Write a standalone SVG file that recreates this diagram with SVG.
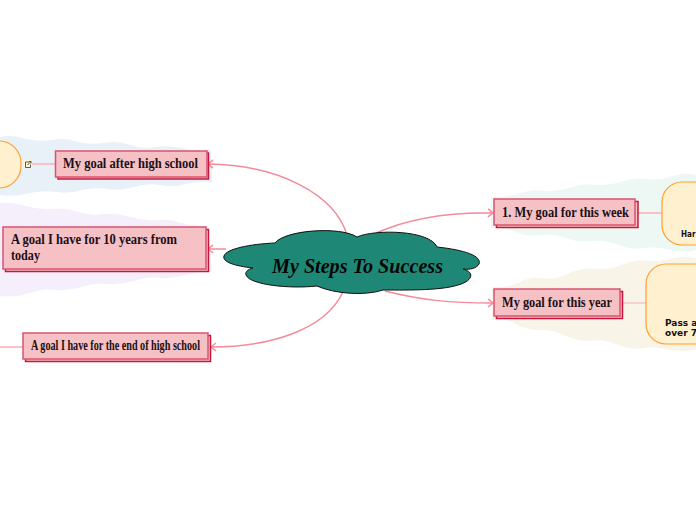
<svg xmlns="http://www.w3.org/2000/svg" width="696" height="520" viewBox="0 0 696 520">
<style>
.box{fill:#f5c1c4;stroke:#d9536f;stroke-width:1.5}
.sh{fill:#f5c1c4;stroke:#c8173c;stroke-width:1.5}
.lb{font-family:"Liberation Serif",serif;font-weight:700;font-size:14px;fill:#1a1015}
.leaf{fill:#fff0cf;stroke:#ff9f2e;stroke-width:1.2}
.lt{font-family:"DejaVu Sans",sans-serif;font-weight:700;font-size:9px;fill:#111}
.c{fill:none;stroke:#f48a9a;stroke-width:1.5}
.s{fill:none;stroke:#f5c2c7;stroke-width:2}
</style>
<defs>
<marker id="a" markerUnits="userSpaceOnUse" markerWidth="10" markerHeight="10" refX="7" refY="5" orient="auto"><path d="M2 1L7 5L2 9" fill="none" stroke="#f48a9a" stroke-width="1.500"/></marker>
</defs>
<g id="blobs">
<path d="M0 137Q13 134 26 139Q39 142 52 140Q65 137 78 142Q91 145 104 143Q117 140 130 145Q143 150 156 147Q169 145 182 148Q195 152 211 150L212 182Q199 181 186 184Q173 188 160 185Q147 183 134 187Q121 191 108 189Q95 187 82 190Q69 194 56 192Q43 190 30 193Q15 197 0 195Z" fill="#e8f1f7"/>
<path d="M0 203Q13 202 26 206Q39 210 52 209Q65 207 78 212Q91 216 104 214Q117 212 130 217Q143 221 156 220Q169 218 182 223Q195 227 208 226L212 272Q199 271 186 275Q173 279 160 278Q147 276 134 281Q121 285 108 284Q95 282 82 287Q69 291 56 290Q43 288 30 293Q15 298 0 296Z" fill="#f5effb"/>
<path d="M491 197Q504 198 517 194Q530 189 543 191Q556 192 569 188Q582 183 595 185Q608 186 621 182Q634 177 647 179Q660 181 673 176Q685 172 696 175V250Q683 253 670 250Q657 246 644 248Q631 250 618 245Q605 240 592 241Q579 243 566 238Q553 233 540 235Q527 237 514 231Q503 226 491 228Z" fill="#edf7f3"/>
<path d="M492 287Q505 288 518 283Q531 276 544 278Q557 280 570 273Q583 267 596 269Q609 270 622 265Q635 259 648 261Q661 262 674 258Q685 255 696 258V350Q683 352 670 350Q657 346 644 348Q631 350 618 345Q605 339 592 341Q579 342 566 336Q553 329 540 330Q527 331 514 323Q503 317 492 320Z" fill="#f8f4e8"/>
</g>
<g id="connectors">
<path class="c" d="M347 235C335 195 280 165 208 164" marker-end="url(#a)"/>
<path class="c" d="M226 249H208" marker-end="url(#a)"/>
<path class="c" d="M343 292C325 330 270 347 211 347" marker-end="url(#a)"/>
<path class="c" d="M376 233C410 218 450 212 493 213" marker-end="url(#a)"/>
<path class="c" d="M385 291C420 300 450 303 493 303" marker-end="url(#a)"/>
<path class="s" d="M32 164H55"/>
<path class="s" d="M0 347H23"/>
<path class="s" d="M638 213H662"/>
<path class="s" d="M622 303H646" opacity=".7"/>
</g>
<g id="center">
<path d="M275 243C285 230 340 226 357 237C375 229 430 230 437 247C465 250 482 256 479 264C477 268 470 270 463 269C475 272 473 281 458 285C440 291 400 290 383 290C365 296 335 294 317 286C290 289 250 285 246 275C245 272 248 269 253 268C235 266 222 262 224 256C226 249 250 244 275 243Z" fill="#1f8775" stroke="#111" stroke-width="1"/>
<text x="272" y="273" font-family="'Liberation Serif',serif" font-weight="700" font-style="italic" font-size="21" fill="#050505" textLength="171" lengthAdjust="spacingAndGlyphs">My Steps To Success</text>
</g>
<g id="node-after">
<rect class="sh" x="58" y="153" width="150.500" height="26"/><rect class="box" x="55.500" y="151" width="151.500" height="26"/>
<text class="lb" x="63" y="168" textLength="135" lengthAdjust="spacingAndGlyphs">My goal after high school</text>
</g>
<g id="leaf-after">
<rect class="leaf" x="-40" y="141" width="61" height="47" rx="22"/>
<rect x="24" y="160" width="8" height="8" fill="#fff3d6"/>
<path d="M29 162H25.500V167.500H30.500V164.500M27.500 165L31 161.500M29 161.500H31V163.500" fill="none" stroke="#333" stroke-width=".8"/>
</g>
<g id="node-10years">
<rect class="sh" x="5.500" y="229.500" width="203" height="42"/><rect class="box" x="3" y="227" width="203" height="42"/>
<text class="lb" x="11" y="244" textLength="166" lengthAdjust="spacingAndGlyphs">A goal I have for 10 years  from</text>
<text class="lb" x="11" y="260" textLength="29" lengthAdjust="spacingAndGlyphs">today</text>
</g>
<g id="node-endhs">
<rect class="sh" x="25.500" y="335.500" width="185" height="26"/><rect class="box" x="23" y="333" width="185" height="26"/>
<text class="lb" x="31" y="350" textLength="169" lengthAdjust="spacingAndGlyphs">A goal I have for the end of high school</text>
</g>
<g id="node-week">
<rect class="sh" x="496.500" y="201.500" width="141.500" height="26"/><rect class="box" x="494" y="199" width="141" height="26"/>
<text class="lb" x="502" y="217" textLength="127" lengthAdjust="spacingAndGlyphs">1. My goal for this week</text>
</g>
<g id="leaf-week">
<rect class="leaf" x="662" y="182" width="80" height="63" rx="20"/>
<text class="lt" x="681" y="237" textLength="14.500" lengthAdjust="spacingAndGlyphs">Har</text>
</g>
<g id="node-year">
<rect class="sh" x="496.500" y="291.500" width="126" height="27"/><rect class="box" x="494" y="289" width="126" height="27"/>
<text class="lb" x="502" y="307" textLength="110" lengthAdjust="spacingAndGlyphs">My goal for this year</text>
</g>
<g id="leaf-year">
<rect class="leaf" x="646" y="264" width="90" height="80" rx="20"/>
<text class="lt" x="665" y="326">Pass a</text>
<text class="lt" x="665" y="336">over 7</text>
</g>
</svg>
